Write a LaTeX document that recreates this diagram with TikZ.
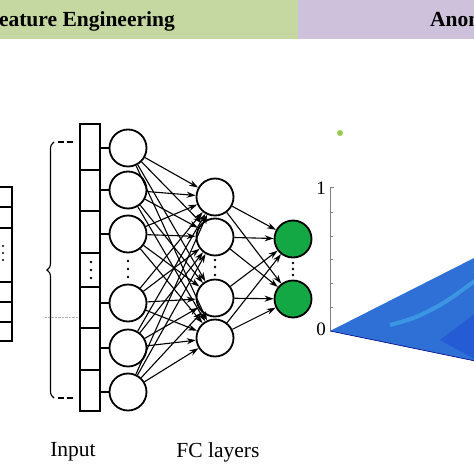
\documentclass[tikz,border=0pt]{standalone}
\usepackage{fontspec}
\setmainfont{Liberation Serif}
\usetikzlibrary{decorations.pathreplacing,arrows.meta}
\definecolor{bannergreen}{RGB}{197,216,161}
\definecolor{bannerpurple}{RGB}{205,193,219}
\definecolor{outgreen}{RGB}{20,168,68}
\definecolor{dotgreen}{RGB}{155,202,80}
\definecolor{surfblue}{RGB}{46,112,214}
\tikzset{
  neuron/.style={circle,draw,line width=1.8pt,minimum size=37pt,inner sep=0pt},
  outneuron/.style={neuron,fill=outgreen},
  vecline/.style={line width=2.4pt},
  vdots/.style={circle,fill,inner sep=0pt,minimum size=2.6pt}
}
\begin{document}
\begin{tikzpicture}[x=1pt,y=-1pt]
					\useasboundingbox (0,0) rectangle (474,474);
					% banner
					\fill[bannergreen] (0,0) rectangle (298,39);
					\fill[bannerpurple] (298,0) rectangle (474,39);
					\node[anchor=base east,font=\bfseries\fontsize{21.5}{24}\selectfont,inner sep=0pt] (fe) at (175,26) {Feature Engineering};
					\node[anchor=base west,font=\bfseries\fontsize{21.5}{24}\selectfont,inner sep=0pt] (ad) at (430,26) {Anomaly Detection};
					% feature vector (left, cut)
					\draw[vecline] (-10,187) rectangle (12,341);
					\draw[vecline] (-10,207) -- (12,207) (-10,228) -- (12,228) (-10,282) -- (12,282) (-10,302) -- (12,302) (-10,322) -- (12,322);
					\node[vdots,minimum size=2.2pt] at (3,246) {};
					\node[vdots,minimum size=2.2pt] at (3,253) {};
					\node[vdots,minimum size=2.2pt] at (3,260) {};
					% brace and input vector
					\draw[line width=1.1pt,decorate,decoration={brace,amplitude=7pt}] (54,398) -- (54,142);
					\draw[line width=2.2pt,dash pattern=on 6pt off 3pt] (58,142) -- (74,142) (58,398) -- (74,398);
					\draw[gray!60,densely dotted] (45,317) -- (78,317);
					\draw[vecline] (80,124) rectangle (100,411);
					\draw[vecline] (80,170) -- (100,170) (80,211) -- (100,211) (80,253) -- (100,253) (80,287) -- (100,287) (80,328) -- (100,328) (80,370) -- (100,370);
					\node[vdots] at (91,262) {};
					\node[vdots] at (91,270) {};
					\node[vdots] at (91,278) {};
					% layers
					\node[neuron] (i1) at (128,148) {};
					\node[neuron] (i2) at (128,190) {};
					\node[neuron] (i3) at (128,234) {};
					\node[neuron] (i4) at (128,303) {};
					\node[neuron] (i5) at (128,348) {};
					\node[neuron] (i6) at (128,392) {};
					\node[neuron] (h1) at (215,197) {};
					\node[neuron] (h2) at (215,237) {};
					\node[neuron] (h3) at (215,298) {};
					\node[neuron] (h4) at (215,338) {};
					\node[outneuron] (o1) at (293,239) {};
					\node[outneuron] (o2) at (293,299) {};
					\node[vdots] at (128,261) {};
					\node[vdots] at (128,269) {};
					\node[vdots] at (128,277) {};
					\node[vdots] at (215,260) {};
					\node[vdots] at (215,267) {};
					\node[vdots] at (215,275) {};
					\node[vdots] at (293,263) {};
					\node[vdots] at (293,269) {};
					\node[vdots] at (293,275) {};
					\draw[line width=1.6pt] (i1.west) -- ++(-9,0) (i2.west) -- ++(-9,0) (i3.west) -- ++(-9,0)
					  (i4.west) -- ++(-9,0) (i5.west) -- ++(-9,0) (i6.west) -- ++(-9,0);
					\path[-{Stealth[length=9pt,width=6pt]},line width=1.1pt]
					(i1) edge (h1) (i1) edge (h2) (i1) edge (h3) (i1) edge (h4)
					(i2) edge (h1) (i2) edge (h2) (i2) edge (h3) (i2) edge (h4)
					(i3) edge (h1) (i3) edge (h2) (i3) edge (h3) (i3) edge (h4)
					(i4) edge (h1) (i4) edge (h2) (i4) edge (h3) (i4) edge (h4)
					(i5) edge (h1) (i5) edge (h2) (i5) edge (h3) (i5) edge (h4)
					(i6) edge (h1) (i6) edge (h2) (i6) edge (h3) (i6) edge (h4)
					(h1) edge (o1) (h1) edge (o2)
					(h2) edge (o1) (h2) edge (o2)
					(h3) edge (o1) (h3) edge (o2)
					(h4) edge (o1) (h4) edge (o2);
					% anomaly score surface
					\fill[dotgreen] (340,133) circle (3);
					\draw[gray,line width=0.6pt] (334,187) -- (330,187) -- (330,331);
					\draw[gray,line width=0.6pt] (330,212) -- (333,212) (330,236) -- (333,236) (330,259) -- (333,259) (330,283) -- (333,283) (330,307) -- (333,307);
					\node[font=\fontsize{19}{21}\selectfont,inner sep=0pt] (one) at (321,188) {1};
					\node[font=\fontsize{19}{21}\selectfont,inner sep=0pt] (zero) at (321,329) {0};
					\fill[surfblue] (330,331) -- (480,255) -- (480,362) -- cycle;
					\fill[blue!80!black,opacity=0.18] (440,340) -- (480,310) -- (480,362) -- cycle;
					\draw[cyan!70!white,line width=4pt,opacity=0.45] plot[smooth] coordinates {(390,325) (416,317) (445,302) (476,280)};
					\draw[blue!50!black,line width=0.6pt] (330,331) -- (480,362);
					% labels
					\node[font=\fontsize{21.5}{24}\selectfont] (inlab) at (73,452) {Input};
					\node[font=\fontsize{21.5}{24}\selectfont] (fclab) at (218,452) {FC layers};
				\end{tikzpicture}
\end{document}
